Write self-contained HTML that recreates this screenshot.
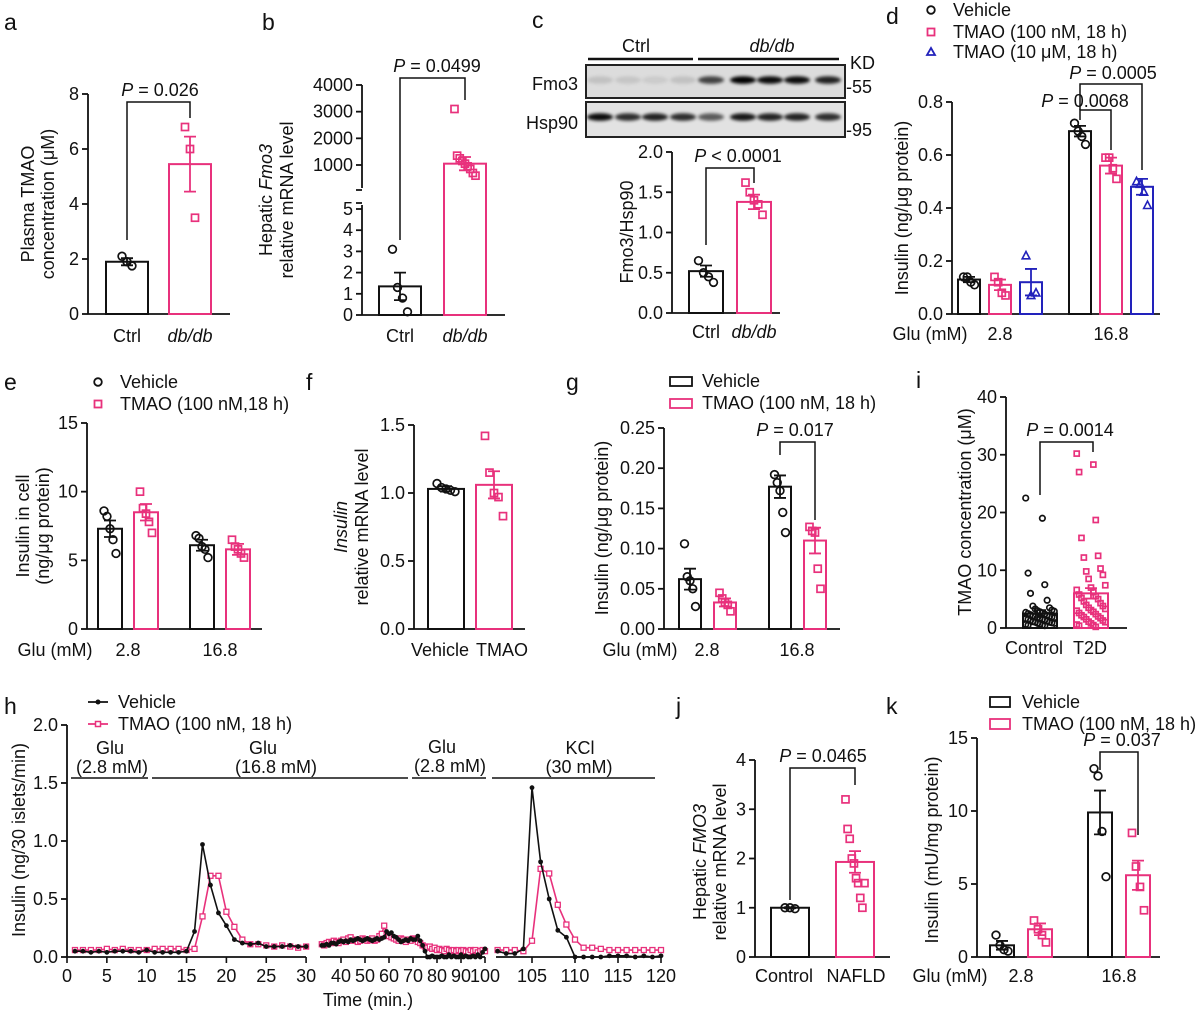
<!DOCTYPE html>
<html><head><meta charset="utf-8"><style>
html,body{margin:0;padding:0;background:#fff}
svg{display:block;font-family:"Liberation Sans",Arial,sans-serif}
text{fill:#111}
</style></head><body>
<svg id="fig" width="1200" height="1014" viewBox="0 0 1200 1014" xmlns="http://www.w3.org/2000/svg">
<defs><filter id="blur" x="-20%" y="-50%" width="140%" height="200%"><feGaussianBlur stdDeviation="1.6"/></filter></defs>
<g font-size="23">
<text x="4" y="30">a</text>
<text x="262" y="30">b</text>
<text x="532" y="28">c</text>
<text x="886" y="24">d</text>
<text x="4" y="390">e</text>
<text x="306" y="390">f</text>
<text x="566" y="390">g</text>
<text x="916" y="388">i</text>
<text x="4" y="714">h</text>
<text x="676" y="714">j</text>
<text x="886" y="714">k</text>
</g>
<g font-size="18" text-anchor="middle">
<text transform="translate(34,204) rotate(-90)">Plasma TMAO</text>
<text transform="translate(54,204) rotate(-90)">concentration (μM)</text>
<text transform="translate(272,200) rotate(-90)">Hepatic <tspan font-style="italic">Fmo3</tspan></text>
<text transform="translate(293,200) rotate(-90)">relative mRNA level</text>
<text transform="translate(633,232) rotate(-90)">Fmo3/Hsp90</text>
<text transform="translate(908,208) rotate(-90)">Insulin (ng/μg protein)</text>
<text transform="translate(29,526) rotate(-90)">Insulin in cell</text>
<text transform="translate(49,526) rotate(-90)">(ng/μg protein)</text>
<text transform="translate(347,527) rotate(-90)" font-style="italic">Insulin</text>
<text transform="translate(368,527) rotate(-90)">relative mRNA level</text>
<text transform="translate(608,528) rotate(-90)">Insulin (ng/μg protein)</text>
<text transform="translate(971,512) rotate(-90)">TMAO concentration (μM)</text>
<text transform="translate(25,840) rotate(-90)">Insulin (ng/30 islets/min)</text>
<text x="368" y="1006">Time (min.)</text>
<text transform="translate(706,862) rotate(-90)">Hepatic <tspan font-style="italic">FMO3</tspan></text>
<text transform="translate(726,862) rotate(-90)">relative mRNA level</text>
<text transform="translate(938,850) rotate(-90)">Insulin (mU/mg protein)</text>
</g>
<g font-size="18" text-anchor="middle">
<text x="127" y="342">Ctrl</text>
<text x="190" y="342" font-style="italic">db/db</text>
<text x="400" y="342">Ctrl</text>
<text x="465" y="342" font-style="italic">db/db</text>
<text x="706" y="338">Ctrl</text>
<text x="754" y="338" font-style="italic">db/db</text>
<text x="930" y="340">Glu (mM)</text>
<text x="1000" y="340">2.8</text>
<text x="1111" y="340">16.8</text>
<text x="55" y="656">Glu (mM)</text>
<text x="128" y="656">2.8</text>
<text x="220" y="656">16.8</text>
<text x="440" y="656">Vehicle</text>
<text x="502" y="656">TMAO</text>
<text x="640" y="656">Glu (mM)</text>
<text x="707" y="656">2.8</text>
<text x="797" y="656">16.8</text>
<text x="1034" y="654">Control</text>
<text x="1090" y="654">T2D</text>
<text x="784" y="982">Control</text>
<text x="856" y="982">NAFLD</text>
<text x="950" y="982">Glu (mM)</text>
<text x="1021" y="982">2.8</text>
<text x="1119" y="982">16.8</text>
</g>
<g font-size="18">
<circle cx="931" cy="10" r="3.8" fill="none" stroke="#111" stroke-width="1.8"/>
<text x="953" y="16">Vehicle</text>
<rect x="927.5" y="28.5" width="7" height="7" fill="none" stroke="#e8317c" stroke-width="1.8"/>
<text x="953" y="38">TMAO (100 nM, 18 h)</text>
<path d="M931,48 L935,55 L927,55 Z" fill="none" stroke="#2222bb" stroke-width="1.8"/>
<text x="953" y="58">TMAO (10 μM, 18 h)</text>
<circle cx="98" cy="382" r="3.8" fill="none" stroke="#111" stroke-width="1.8"/>
<text x="120" y="388">Vehicle</text>
<rect x="94.5" y="400.5" width="7" height="7" fill="none" stroke="#e8317c" stroke-width="1.8"/>
<text x="120" y="410">TMAO (100 nM,18 h)</text>
<rect x="670" y="377" width="22" height="9" fill="none" stroke="#111" stroke-width="1.8"/>
<text x="702" y="387">Vehicle</text>
<rect x="670" y="399" width="22" height="9" fill="none" stroke="#e8317c" stroke-width="1.8"/>
<text x="702" y="409">TMAO (100 nM, 18 h)</text>
<line x1="88" y1="702" x2="108" y2="702" stroke="#111" stroke-width="1.8"/>
<circle cx="98" cy="702" r="2.5" fill="#111"/>
<text x="118" y="708">Vehicle</text>
<line x1="88" y1="724" x2="108" y2="724" stroke="#e8317c" stroke-width="1.8"/>
<rect x="95.5" y="721.5" width="5" height="5" fill="#fff" stroke="#e8317c" stroke-width="1.5"/>
<text x="118" y="730">TMAO (100 nM, 18 h)</text>
<rect x="990" y="697" width="20" height="10" fill="none" stroke="#111" stroke-width="1.8"/>
<text x="1022" y="708">Vehicle</text>
<rect x="990" y="719" width="20" height="10" fill="none" stroke="#e8317c" stroke-width="1.8"/>
<text x="1022" y="730">TMAO (100 nM, 18 h)</text>
</g>
<g>
<text x="636" y="52" font-size="18" text-anchor="middle">Ctrl</text>
<text x="772" y="52" font-size="18" text-anchor="middle" font-style="italic">db/db</text>
<line x1="588" y1="59" x2="693" y2="59" stroke="#111" stroke-width="2.5"/>
<line x1="698" y1="59" x2="839" y2="59" stroke="#111" stroke-width="2.5"/>
<rect x="586" y="65" width="259" height="33" fill="#dcdcdc" stroke="#222" stroke-width="2"/>
<rect x="586" y="102" width="259" height="35" fill="#e2e2e2" stroke="#222" stroke-width="2"/>
<g id="bands" filter="url(#blur)"></g>
<text x="578" y="90" font-size="18" text-anchor="end">Fmo3</text>
<text x="578" y="129" font-size="18" text-anchor="end">Hsp90</text>
<text x="850" y="69" font-size="18">KD</text>
<text x="846" y="93" font-size="18">-55</text>
<text x="846" y="136" font-size="18">-95</text>
</g>
<g font-size="18" text-anchor="middle">
<text x="110" y="754">Glu</text>
<text x="112" y="773">(2.8 mM)</text>
<line x1="71" y1="778" x2="148" y2="778" stroke="#111" stroke-width="1.5"/>
<text x="263" y="754">Glu</text>
<text x="276" y="773">(16.8 mM)</text>
<line x1="152" y1="778" x2="408" y2="778" stroke="#111" stroke-width="1.5"/>
<text x="442" y="753">Glu</text>
<text x="450" y="772">(2.8 mM)</text>
<line x1="412" y1="778" x2="486" y2="778" stroke="#111" stroke-width="1.5"/>
<text x="580" y="754">KCl</text>
<text x="579" y="773">(30 mM)</text>
<line x1="492" y1="778" x2="655" y2="778" stroke="#111" stroke-width="1.5"/>
</g>
</svg>
<script>
const NS='http://www.w3.org/2000/svg';
const svg=document.getElementById('fig');
const PINK='#e8317c', BLK='#111', BLUE='#2222bb';
const FS=18;

// ---------- DATA ----------
const aCats=['Ctrl','db/db'];
const aMeans=[1.9,5.45];
const aErr=[0.13,1.0];
const aPtsCtrl=[2.1,1.9,1.75];
const aPtsDb=[6.8,6.0,3.5];
const bCats=['Ctrl','db/db'];
const bMeans=[1.35,1050];
const bErr=[0.65,250];
const bPtsCtrl=[3.1,1.3,0.8,0.15];
const bPtsDb=[3100,1350,1250,1150,1050,950,850,700,600];
const bTicksLow=[0,1,2,3,4,5];
const bTicksHigh=[1000,2000,3000,4000];
const cCats=['Ctrl','db/db'];
const cMeans=[0.52,1.38];
const cErr=[0.07,0.09];
const cPtsCtrl=[0.65,0.5,0.45,0.38];
const cPtsDb=[1.62,1.5,1.4,1.35,1.22];
const cFmo3Band=[0.12,0.1,0.08,0.12,0.7,1.0,0.95,0.95,0.85];
const cHspBand=[0.95,0.8,0.85,0.8,0.6,0.9,0.85,0.85,0.8];
const dGroups=['2.8','16.8'];
const dVehMeans=[0.13,0.69], dVehErr=[0.01,0.02];
const dTmaoMeans=[0.11,0.56], dTmaoErr=[0.02,0.03];
const dT10Means=[0.12,0.48], dT10Err=[0.05,0.03];
const dVehPts=[[0.14,0.14,0.12,0.11],[0.72,0.69,0.67,0.64]];
const dTmaoPts=[[0.14,0.12,0.08,0.07],[0.59,0.59,0.55,0.51]];
const dT10Pts=[[0.22,0.07,0.08],[0.5,0.49,0.46,0.41]];
const eVehMeans=[7.3,6.1], eVehErr=[0.6,0.4];
const eTmaoMeans=[8.5,5.8], eTmaoErr=[0.6,0.4];
const eVehPts=[[8.6,8.2,7.3,6.5,5.5],[6.8,6.6,6.0,5.8,5.2]];
const eTmaoPts=[[10.0,8.8,8.4,7.8,7.0],[6.5,6.0,5.8,5.5,5.2]];
const fMeans=[1.03,1.06], fErr=[0.02,0.1];
const fPtsVeh=[1.07,1.04,1.03,1.02,1.01];
const fPtsTmao=[1.42,1.15,1.0,0.97,0.83];
const gVehMeans=[0.062,0.177], gVehErr=[0.013,0.014];
const gTmaoMeans=[0.033,0.11], gTmaoErr=[0.005,0.016];
const gVehPts=[[0.106,0.065,0.06,0.05,0.028],[0.192,0.182,0.172,0.145,0.12]];
const gTmaoPts=[[0.045,0.038,0.033,0.03,0.022],[0.127,0.122,0.12,0.075,0.05]];
const iMeans=[2.5,6.0], iErr=[0.6,0.9];
const iPtsCtrl=[22.5,19,9.5,7.5,6,4.8,3.8,3.5,3.3,3.1,3,2.9,2.8,2.7,2.6,2.5,2.4,2.3,2.2,2.1,2,2,1.9,1.8,1.8,1.7,1.6,1.5,1.5,1.4,1.3,1.2,1.1,1,1,0.9,0.8,0.8,0.7,0.6,0.5,0.5,0.4];
const iPtsT2d=[30.2,28.3,27,18.7,15.6,12.5,12.2,10.3,9.8,9.2,8.5,7.4,7,6.6,6.2,5.8,5.5,5.2,5,4.6,4.3,4,3.8,3.5,3.3,3.1,3,2.8,2.6,2.4,2.2,2,1.9,1.7,1.5,1.3,1.1,1,0.8,0.6,0.5,0.4,0.2];
const jMeans=[1.0,1.93], jErr=[0.01,0.22];
const jPtsCtrl=[1.0,1.0,0.98];
const jPtsNafld=[3.2,2.6,2.4,2.0,1.9,1.6,1.5,1.2,1.0,1.5];
const kVehMeans=[0.8,9.9], kVehErr=[0.3,1.5];
const kTmaoMeans=[1.9,5.6], kTmaoErr=[0.4,1.0];
const kVehPts=[[1.5,0.8,0.5,0.4],[12.9,12.4,8.6,5.5]];
const kTmaoPts=[[2.5,1.9,1.5,1.0],[8.5,6.2,4.8,3.2]];
const hT1=[1,2,3,4,5,6,7,8,9,10,11,12,13,14,15,16,17,18,19,20,21,22,23,24,25,26,27,28,29,30];
const hVeh1=[0.05,0.05,0.04,0.05,0.04,0.05,0.05,0.05,0.04,0.06,0.04,0.04,0.04,0.04,0.05,0.22,0.97,0.62,0.38,0.27,0.15,0.12,0.11,0.12,0.09,0.09,0.09,0.1,0.09,0.09];
const hTmao1=[0.06,0.06,0.06,0.06,0.07,0.06,0.07,0.06,0.06,0.06,0.07,0.07,0.07,0.07,0.06,0.07,0.35,0.7,0.7,0.39,0.26,0.15,0.11,0.11,0.1,0.09,0.1,0.09,0.08,0.09];
const hT2=[32,33,34,35,36,37,38,39,40,41,42,43,44,45,46,47,48,49,50,51,52,53,54,55,56,57,58,59,60,61,62,63,64,65,66,67,68,69,70,71,72,73,74,75,76,77,78,79,80,81,82,83,84,85,86,87,88,89,90,91,92,93,94,95,96,97,98,99,100];
const hVeh2=[0.1,0.1,0.11,0.1,0.12,0.12,0.11,0.13,0.14,0.13,0.14,0.13,0.15,0.14,0.15,0.16,0.15,0.14,0.15,0.16,0.15,0.14,0.15,0.16,0.15,0.16,0.17,0.22,0.2,0.21,0.18,0.17,0.15,0.13,0.14,0.15,0.14,0.16,0.15,0.15,0.18,0.14,0.1,0.05,0.0,0.0,0.01,0.0,0.0,0.0,0.01,0.0,0.0,0.02,0.0,0.01,0.0,0.0,0.02,0.0,0.01,0.0,0.0,0.01,0.0,0.02,0.0,0.04,0.07];
const hTmao2=[0.11,0.1,0.12,0.13,0.12,0.14,0.13,0.12,0.14,0.15,0.13,0.16,0.17,0.14,0.15,0.13,0.14,0.16,0.15,0.14,0.15,0.16,0.14,0.15,0.18,0.2,0.27,0.19,0.18,0.17,0.16,0.15,0.14,0.16,0.15,0.13,0.15,0.14,0.16,0.15,0.13,0.12,0.1,0.09,0.08,0.09,0.07,0.08,0.06,0.07,0.06,0.05,0.07,0.06,0.05,0.06,0.05,0.06,0.05,0.06,0.05,0.04,0.06,0.05,0.06,0.04,0.05,0.06,0.05];
const hT3=[101,102,103,104,105,106,107,108,109,110,111,112,113,114,115,116,117,118,119,120];
const hVeh3=[0.05,0.03,0.03,0.07,1.46,0.82,0.5,0.23,0.17,0.0,0.0,0.0,0.0,0.01,0.01,0.01,0.0,0.01,0.0,0.01];
const hTmao3=[0.06,0.06,0.06,0.05,0.14,0.76,0.72,0.45,0.28,0.15,0.08,0.08,0.07,0.06,0.06,0.06,0.06,0.06,0.06,0.06];
const hYTicks=[0,0.5,1.0,1.5,2.0];
const hXTicks1=[0,5,10,15,20,25,30];
const hXTicks2=[40,50,60,70,80,90,100];
const hXTicks3=[105,110,115,120];

// ---------- HELPERS ----------
function mk(tag,attrs,parent){const e=document.createElementNS(NS,tag);for(const k in attrs)e.setAttribute(k,attrs[k]);(parent||svg).appendChild(e);return e;}
function fmt(v,d){return v.toFixed(d);}

function yAxis(ax,yTop,yBot,ticks,sc,dec,name){
  const l=mk('line',{x1:ax,y1:yTop,x2:ax,y2:yBot,stroke:BLK,'stroke-width':1.8});
  
  
  ticks.forEach(t=>{
    const y=sc(t);
    const tk=mk('line',{x1:ax-6,y1:y,x2:ax,y2:y,stroke:BLK,'stroke-width':1.8});
    
    
    const tx=mk('text',{x:ax-9,y:y+6,'font-size':FS,'text-anchor':'end'});
    
    
    tx.textContent=fmt(t,dec);
  });
}
function xAxis(x1,x2,y,name){
  const l=mk('line',{x1:x1,y1:y,x2:x2,y2:y,stroke:BLK,'stroke-width':1.8});
  
  
}
function marker(shape,x,y,color,s,name){
  let m;
  if(shape==='c'){m=mk('circle',{cx:x,cy:y,r:s*0.55,fill:'none',stroke:color,'stroke-width':1.7});}
  else if(shape==='s'){m=mk('rect',{x:x-s/2,y:y-s/2,width:s,height:s,fill:'none',stroke:color,'stroke-width':1.7});}
  else {m=mk('path',{d:`M${x},${y-s*0.6} L${x+s*0.55},${y+s*0.45} L${x-s*0.55},${y+s*0.45} Z`,fill:'none',stroke:color,'stroke-width':1.6});}
  
  
}
function bar(cx,w,mean,err,pts,sc,y0,color,shape,name,spread,ms){
  const yt=sc(mean);
  const r=mk('rect',{x:cx-w/2,y:yt,width:w,height:Math.max(0,y0-yt),fill:'none',stroke:color,'stroke-width':2});
  
  
  const n=pts.length;
  const step=spread?0:Math.min(5,(w*0.5)/Math.max(1,n-1));
  pts.forEach((v,i)=>{
    let dx = spread ? (((i*7)%13)-6)*(w*0.07) : (i-(n-1)/2)*step;
    marker(shape,cx+dx,sc(v),color,ms||7,name+'-point');
  });
  const e1=sc(mean+err), e2=sc(mean-err);
  const el=mk('path',{d:`M${cx},${e1} V${e2} M${cx-6},${e1} H${cx+6} M${cx-6},${e2} H${cx+6}`,stroke:color,'stroke-width':1.8,fill:'none'});
  
  
}
function bracket(x1,x2,y,yl,yr,label,tx,name,ty){
  const p=mk('path',{d:`M${x1},${yl} V${y} H${x2} V${yr}`,stroke:BLK,'stroke-width':1.5,fill:'none'});
  
  
  const t=mk('text',{x:tx,y:ty||(y-6),'font-size':FS,'text-anchor':'middle'});
  
  
  t.innerHTML='<tspan font-style="italic">P</tspan> '+label;
}
function lin(y0,yTop,vmax){return v=>y0-(v/vmax)*(y0-yTop);}

// a
{const sc=lin(314,94,8);
 yAxis(88,94,314,[0,2,4,6,8],sc,0,'a');xAxis(88,230,314,'a');
 bar(127,42,aMeans[0],aErr[0],aPtsCtrl,sc,314,BLK,'c','a-ctrl');
 bar(190,42,aMeans[1],aErr[1],aPtsDb,sc,314,PINK,'s','a-dbdb');
 bracket(127,190,102,240,118,'= 0.026',160,'a');}
// b
{const sc=v=> v<=5 ? 315-v*21.2 : 165-(v-1000)*0.02667;
 const ax=362;
 const l1=mk('line',{x1:ax,y1:205,x2:ax,y2:315,stroke:BLK,'stroke-width':1.8});
 
 
 const l2=mk('line',{x1:ax,y1:85,x2:ax,y2:188,stroke:BLK,'stroke-width':1.8});
 
 
 const br=mk('path',{d:`M${ax-6},190 L${ax},190 M${ax-6},203 L${ax},203`,stroke:BLK,'stroke-width':1.8});
 
 
 [...bTicksLow,...bTicksHigh].forEach(t=>{const y=sc(t);
   const tk=mk('line',{x1:ax-6,y1:y,x2:ax,y2:y,stroke:BLK,'stroke-width':1.8});
   
   
   const tx=mk('text',{x:ax-9,y:y+6,'font-size':FS,'text-anchor':'end'});
   
   
   tx.textContent=String(t);});
 xAxis(ax,505,315,'b');
 bar(400,42,bMeans[0],bErr[0],bPtsCtrl,sc,315,BLK,'c','b-ctrl');
 bar(465,42,bMeans[1],bErr[1],bPtsDb,sc,315,PINK,'s','b-dbdb');
 bracket(400,465,78,240,100,'= 0.0499',437,'b');}
// c
{const sc=lin(313,152,2.0);
 yAxis(672,152,313,[0,0.5,1.0,1.5,2.0],sc,1,'c');xAxis(672,780,313,'c');
 bar(706,34,cMeans[0],cErr[0],cPtsCtrl,sc,313,BLK,'c','c-ctrl');
 bar(754,34,cMeans[1],cErr[1],cPtsDb,sc,313,PINK,'s','c-dbdb');
 bracket(706,754,168,245,183,'&lt; 0.0001',738,'c');
 const lanes=[600,628,655,683,711,743,770,797,828];
 const g=document.getElementById('bands');
 lanes.forEach((x,i)=>{
   const b1=mk('ellipse',{cx:x,cy:80,rx:13,ry:3.8,fill:'#000','fill-opacity':cFmo3Band[i]},g);
   
   
   const b2=mk('ellipse',{cx:x,cy:117,rx:13,ry:3.8,fill:'#000','fill-opacity':cHspBand[i]},g);
   
   
 });}
// d
{const sc=lin(314,102,0.8);
 yAxis(952,102,314,[0,0.2,0.4,0.6,0.8],sc,1,'d');xAxis(952,1160,314,'d');
 const gx=[1000,1111];
 gx.forEach((c,i)=>{
   bar(c-31,22,dVehMeans[i],dVehErr[i],dVehPts[i],sc,314,BLK,'c','d-vehicle-'+dGroups[i]);
   bar(c,22,dTmaoMeans[i],dTmaoErr[i],dTmaoPts[i],sc,314,PINK,'s','d-tmao100-'+dGroups[i]);
   bar(c+31,22,dT10Means[i],dT10Err[i],dT10Pts[i],sc,314,BLUE,'t','d-tmao10-'+dGroups[i]);
 });
 bracket(1080,1111,110,120,150,'= 0.0068',1085,'d-a',107);
 bracket(1080,1142,84,110,170,'= 0.0005',1113,'d-b',79);}
// e
{const sc=lin(629,423,15);
 yAxis(87,423,629,[0,5,10,15],sc,0,'e');xAxis(87,262,629,'e');
 const gx=[128,220];
 gx.forEach((c,i)=>{
   bar(c-18,24,eVehMeans[i],eVehErr[i],eVehPts[i],sc,629,BLK,'c','e-vehicle');
   bar(c+18,24,eTmaoMeans[i],eTmaoErr[i],eTmaoPts[i],sc,629,PINK,'s','e-tmao');
 });}
// f
{const sc=lin(629,425,1.5);
 yAxis(414,425,629,[0,0.5,1.0,1.5],sc,1,'f');xAxis(414,525,629,'f');
 bar(446,36,fMeans[0],fErr[0],fPtsVeh,sc,629,BLK,'c','f-vehicle');
 bar(494,36,fMeans[1],fErr[1],fPtsTmao,sc,629,PINK,'s','f-tmao');}
// g
{const sc=lin(629,428,0.25);
 yAxis(664,428,629,[0,0.05,0.10,0.15,0.20,0.25],sc,2,'g');xAxis(664,840,629,'g');
 const gx=[707,797];
 gx.forEach((c,i)=>{
   bar(c-17,22,gVehMeans[i],gVehErr[i],gVehPts[i],sc,629,BLK,'c','g-vehicle');
   bar(c+18,22,gTmaoMeans[i],gTmaoErr[i],gTmaoPts[i],sc,629,PINK,'s','g-tmao');
 });
 bracket(780,815,442,455,520,'= 0.017',795,'g');}
// i
{const sc=lin(628,397,40);
 yAxis(1006,397,628,[0,10,20,30,40],sc,0,'i');xAxis(1006,1127,628,'i');
 bar(1040,34,iMeans[0],iErr[0],iPtsCtrl,sc,628,BLK,'c','i-control',true,5);
 bar(1091,34,iMeans[1],iErr[1],iPtsT2d,sc,628,PINK,'s','i-t2d',true,5);
 bracket(1040,1093,442,495,452,'= 0.0014',1070,'i');}
// j
{const sc=lin(957,760,4);
 yAxis(755,760,957,[0,1,2,3,4],sc,0,'j');xAxis(755,890,957,'j');
 bar(790,38,jMeans[0],jErr[0],jPtsCtrl,sc,957,BLK,'c','j-control');
 bar(855,38,jMeans[1],jErr[1],jPtsNafld,sc,957,PINK,'s','j-nafld');
 bracket(790,855,768,900,785,'= 0.0465',823,'j');}
// k
{const sc=lin(957,738,15);
 yAxis(977,738,957,[0,5,10,15],sc,0,'k');xAxis(977,1160,957,'k');
 const gx=[1021,1119];
 gx.forEach((c,i)=>{
   bar(c-19,24,kVehMeans[i],kVehErr[i],kVehPts[i],sc,957,BLK,'c','k-vehicle');
   bar(c+19,24,kTmaoMeans[i],kTmaoErr[i],kTmaoPts[i],sc,957,PINK,'s','k-tmao');
 });
 bracket(1100,1138,752,770,835,'= 0.037',1122,'k');}
// h
{const sc=lin(957,725,2.0);
 const x1=t=>67+t*7.97, x2=t=>341+(t-40)*2.4, x3=t=>532+(t-105)*8.6;
 yAxis(67,725,957,hYTicks,sc,1,'h');
 xAxis(67,306,957,'h-seg1');xAxis(320,485,957,'h-seg2');xAxis(496,661,957,'h-seg3');
 const tickSets=[[hXTicks1,x1],[hXTicks2,x2],[hXTicks3,x3]];
 tickSets.forEach(([ts,f])=>ts.forEach(t=>{
   const x=f(t);
   const tk=mk('line',{x1:x,y1:957,x2:x,y2:963,stroke:BLK,'stroke-width':1.6});
   
   
   const tx=mk('text',{x:x,y:982,'font-size':FS,'text-anchor':'middle'});
   
   
   tx.textContent=String(t);
 }));
 [[hT1,x1],[hT2,x2],[hT3,x3]].forEach(([ts,f],si)=>{
   const series=[[ [hTmao1,hTmao2,hTmao3][si],PINK,'s','h-tmao'],[[hVeh1,hVeh2,hVeh3][si],BLK,'c','h-vehicle']];
   series.forEach(([vals,col,shape,nm])=>{
     const d=ts.map((t,i)=>(i?'L':'M')+f(t)+','+sc(vals[i])).join(' ');
     const p=mk('path',{d:d,fill:'none',stroke:col,'stroke-width':1.6});
     
     
     ts.forEach((t,i)=>{
       let m;
       if(shape==='s') m=mk('rect',{x:f(t)-2.5,y:sc(vals[i])-2.5,width:5,height:5,fill:'#fff',stroke:col,'stroke-width':1.3});
       else m=mk('circle',{cx:f(t),cy:sc(vals[i]),r:2.4,fill:col});
       
       
     });
   });
 });}
</script>
</body></html>
